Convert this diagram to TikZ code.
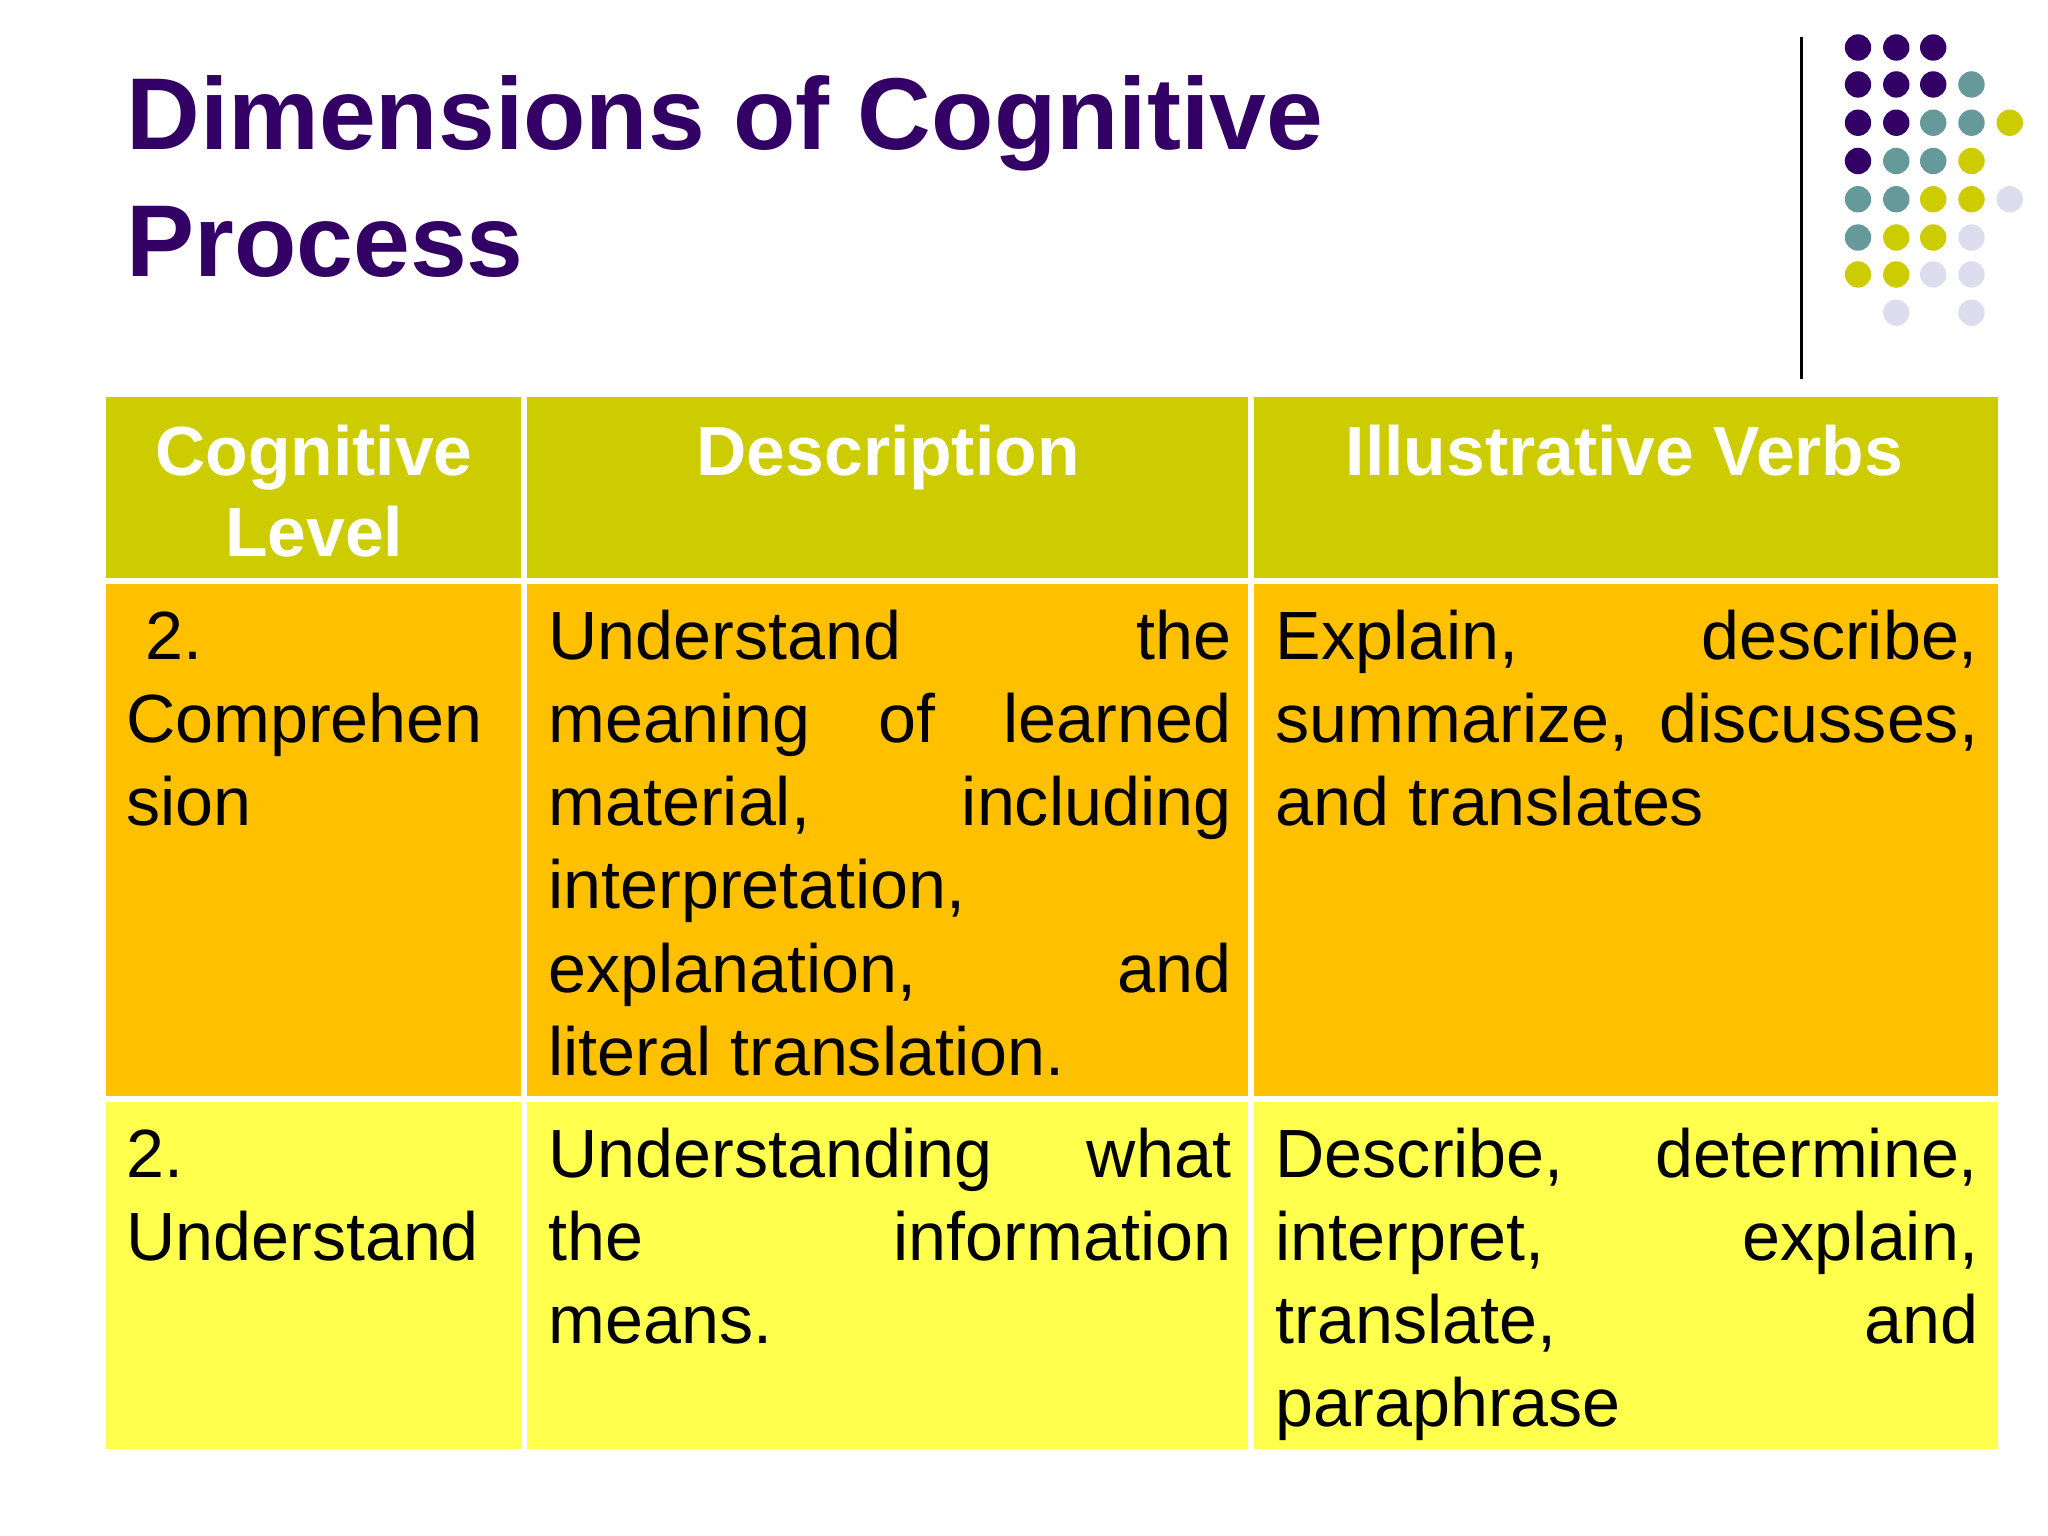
\documentclass[tikz,border=0pt]{standalone}
\usepackage{fontspec}
\setmainfont{Liberation Sans}
\definecolor{ttl}{HTML}{330066}
\definecolor{hdr}{HTML}{CCCC00}
\definecolor{rowa}{HTML}{FFC000}
\definecolor{rowb}{HTML}{FFFF4D}
\definecolor{dpur}{HTML}{330066}
\definecolor{dteal}{HTML}{669999}
\definecolor{dolv}{HTML}{CCCC00}
\definecolor{dlav}{HTML}{DDDDEE}
\newcommand{\bodyfnt}{\fontsize{14.7}{17.9}\selectfont}
\tikzset{
 cell/.style={draw=white,line width=1.2pt},
 body/.style={anchor=base west,inner sep=0pt},
 head/.style={anchor=base,inner sep=0pt,text=white},
}
\begin{document}
\begin{tikzpicture}[x=0.01cm,y=-0.01cm]
\useasboundingbox (0,0) rectangle (1552,1164);
\node[anchor=base west,inner sep=0pt,text=ttl] (title) at (95,113) {\parbox[t]{12cm}{\fontsize{22}{27.5}\selectfont\bfseries Dimensions of Cognitive\\Process}};
\draw[line width=0.6pt] (1365,28) coordinate (la) -- (1365,287) coordinate (lb);
\foreach \r/\cols in {36/{1408/dpur,1437/dpur,1465/dpur},
 64/{1408/dpur,1437/dpur,1465/dpur,1494/dteal},
 93/{1408/dpur,1437/dpur,1465/dteal,1494/dteal,1523/dolv},
 122/{1408/dpur,1437/dteal,1465/dteal,1494/dolv},
 151/{1408/dteal,1437/dteal,1465/dolv,1494/dolv,1523/dlav},
 180/{1408/dteal,1437/dolv,1465/dolv,1494/dlav},
 208/{1408/dolv,1437/dolv,1465/dlav,1494/dlav},
 237/{1437/dlav,1494/dlav}}{
 \foreach \x/\c in \cols { \fill[\c] (\x,\r) circle (10); }
}
% table
\fill[hdr] (80,301) rectangle (1514,438);
\fill[rowa] (80,438) rectangle (1514,833);
\fill[rowb] (80,833) rectangle (1514,1098);
\draw[cell] (80,440.5) -- (1514,440.5);
\draw[cell] (80,833) -- (1514,833);
\draw[cell] (397,301) -- (397,1098);
\draw[cell] (948,301) -- (948,1098);
\node[head] (h1) at (238,360) {\parbox[t]{3cm}{\centering\fontsize{15}{17.6}\selectfont\bfseries Cognitive\\Level}};
\node[head] (h2) at (673,360) {\fontsize{15}{17.6}\selectfont\bfseries Description};
\node[head] (h3) at (1231,360) {\fontsize{15}{17.6}\selectfont\bfseries Illustrative Verbs};
\node[body] (a1) at (95,500) {\parbox[t]{3cm}{\bodyfnt\ 2.\\Comprehen\\sion}};
\node[body] (a2) at (415,500) {\parbox[t]{5.17cm}{\bodyfnt
Understand\hfill the\\meaning\hfill of\hfill learned\\material,\hfill including\\interpretation,\\explanation,\hfill and\\literal translation.}};
\node[body] (a3) at (966,500) {\parbox[t]{5.32cm}{\bodyfnt
Explain,\hfill describe,\\summarize,\hfill discusses,\\and translates}};
\node[body] (b1) at (95,892) {\parbox[t]{3cm}{\bodyfnt 2.\\Understand}};
\node[body] (b2) at (415,892) {\parbox[t]{5.17cm}{\bodyfnt
Understanding\hfill what\\the\hfill information\\means.}};
\node[body] (b3) at (966,892) {\parbox[t]{5.32cm}{\bodyfnt
Describe,\hfill determine,\\interpret,\hfill explain,\\translate,\hfill and\\paraphrase}};
\end{tikzpicture}
\end{document}
